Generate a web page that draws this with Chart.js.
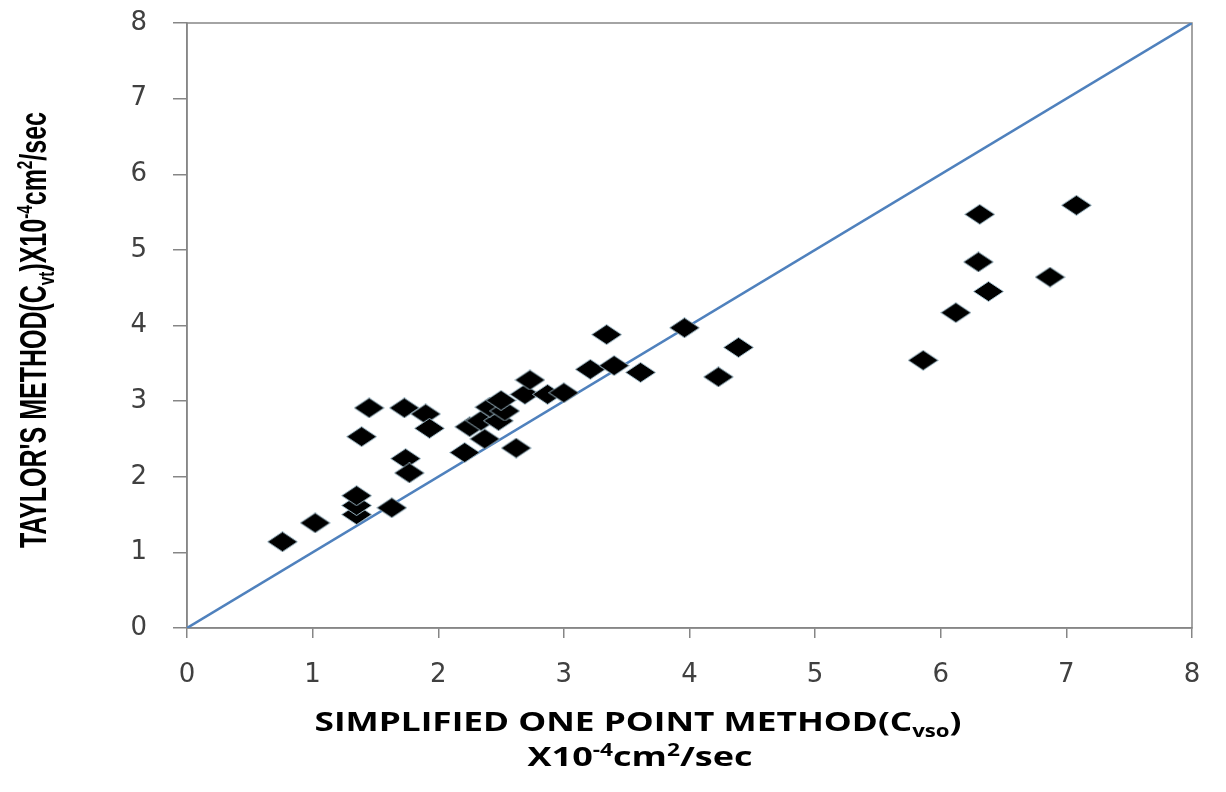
<!DOCTYPE html>
<html>
<head>
<meta charset="utf-8">
<title>Taylor's method vs simplified one point method</title>
<script src="https://cdn.jsdelivr.net/npm/chart.js@4.4.1/dist/chart.umd.min.js"></script>
<style>
  html, body { margin: 0; padding: 0; background: #ffffff; }
  #wrap { width: 1226px; height: 792px; }
</style>
</head>
<body>
<div id="wrap"><canvas id="chart" width="1226" height="792"></canvas></div>
<script>
// simplified one point method Cvso (x) vs Taylor's method Cvt (y), x10^-4 cm2/sec
const cvso = [0.76, 1.02, 1.35, 1.35, 1.35, 1.63, 1.39, 1.45, 1.73, 1.90,
              1.93, 1.74, 1.77, 2.21, 2.25, 2.37, 2.34, 2.48, 2.41, 2.53,
              2.50, 2.62, 2.69, 2.73, 2.87, 3.00, 3.21, 3.40, 3.61, 3.34,
              3.96, 4.23, 4.39, 5.86, 6.12, 6.30, 6.31, 6.38, 6.87, 7.08];
const cvt  = [1.14, 1.39, 1.50, 1.62, 1.75, 1.59, 2.53, 2.91, 2.91, 2.83,
              2.64, 2.24, 2.05, 2.32, 2.66, 2.50, 2.74, 2.74, 2.92, 2.87,
              3.01, 2.38, 3.09, 3.28, 3.09, 3.11, 3.42, 3.47, 3.38, 3.88,
              3.97, 3.32, 3.71, 3.54, 4.17, 4.84, 5.47, 4.45, 4.64, 5.59];

// 1:1 line
const lineX = [0, 8];
const lineY = [0, 8];

const axisTicks = [0, 1, 2, 3, 4, 5, 6, 7, 8];

const points = cvso.map((x, i) => ({ x: x, y: cvt[i] }));
const linePts = lineX.map((x, i) => ({ x: x, y: lineY[i] }));

// flattened diamond marker like the excel one
function makeDiamond(w, h) {
    const c = document.createElement('canvas');
    c.width = w;
    c.height = h;
    const g = c.getContext('2d');
    g.beginPath();
    g.moveTo(w / 2, 0.5);
    g.lineTo(w - 0.5, h / 2);
    g.lineTo(w / 2, h - 0.5);
    g.lineTo(0.5, h / 2);
    g.closePath();
    g.fillStyle = '#000000';
    g.fill();
    g.strokeStyle = 'rgba(170,200,215,0.9)';
    g.lineWidth = 1;
    g.stroke();
    return c;
}
const diamond = makeDiamond(31, 21);

// text pieces: [text, 'sub' | 'sup' | undefined]
const yTitle = [["TAYLOR'S METHOD(C"], ['vt', 'sub'], [')X10'], ['-4', 'sup'], ['cm'], ['2', 'sup'], ['/sec']];
const xTitle1 = [['SIMPLIFIED ONE POINT METHOD(C'], ['vso', 'sub'], [')']];
const xTitle2 = [['X10'], ['-4', 'sup'], ['cm'], ['2', 'sup'], ['/sec']];

function drawRich(ctx, parts, family, size, cx, baseY, targetW) {
    const big = 'bold ' + size + 'px ' + family;
    const small = 'bold ' + Math.round(size * 0.62) + 'px ' + family;
    let w = 0;
    parts.forEach(p => {
        ctx.font = p[1] ? small : big;
        w += ctx.measureText(p[0]).width;
    });
    const sx = targetW / w;
    ctx.save();
    ctx.translate(cx - targetW / 2, baseY);
    ctx.scale(sx, 1);
    ctx.fillStyle = '#000000';
    ctx.textBaseline = 'alphabetic';
    ctx.textAlign = 'left';
    let x = 0;
    parts.forEach(p => {
        ctx.font = p[1] ? small : big;
        let dy = 0;
        if (p[1] === 'sub') dy = size * 0.22;
        if (p[1] === 'sup') dy = -size * 0.38;
        ctx.fillText(p[0], x, dy);
        x += ctx.measureText(p[0]).width;
    });
    ctx.restore();
}

const titlesPlugin = {
    id: 'titles',
    beforeDatasetsDraw(chart) {
        const ctx = chart.ctx;
        const a = chart.chartArea;
        ctx.save();
        ctx.strokeStyle = '#868686';
        ctx.lineWidth = 1.5;
        ctx.strokeRect(a.left, a.top, a.right - a.left, a.bottom - a.top);
        ctx.restore();
    },
    afterDraw(chart) {
        const ctx = chart.ctx;
        drawRich(ctx, xTitle1, '"Open Sans", sans-serif', 27, 638, 731, 647);
        drawRich(ctx, xTitle2, '"Open Sans", sans-serif', 27, 640, 766, 225);
        ctx.save();
        ctx.translate(46, 330);
        ctx.rotate(-Math.PI / 2);
        drawRich(ctx, yTitle, '"Liberation Sans Narrow", "Liberation Sans", sans-serif', 36, 0, 0, 436);
        ctx.restore();
    }
};

new Chart(document.getElementById('chart'), {
    type: 'scatter',
    data: {
        datasets: [
            {
                label: 'Cvt vs Cvso',
                data: points,
                pointStyle: diamond,
                pointRadius: 12,
                pointHoverRadius: 12,
                showLine: false,
                order: 1
            },
            {
                type: 'line',
                label: '1:1',
                data: linePts,
                borderColor: '#4f81bd',
                borderWidth: 2.5,
                pointRadius: 0,
                fill: false,
                order: 2
            }
        ]
    },
    options: {
        responsive: false,
        animation: false,
        layout: { padding: { top: 23, right: 34, left: 0, bottom: 0 } },
        plugins: {
            legend: { display: false },
            tooltip: { enabled: false }
        },
        scales: {
            x: {
                type: 'linear',
                min: 0,
                max: 8,
                afterBuildTicks: s => { s.ticks = axisTicks.map(v => ({ value: v })); },
                afterFit: s => { s.height = 164; },
                grid: { drawOnChartArea: false, drawTicks: true, tickLength: 10, color: '#868686', lineWidth: 1.5 },
                border: { color: '#868686', width: 1.5 },
                ticks: { padding: 22, color: '#404040', font: { family: '"DejaVu Sans", sans-serif', size: 26 } }
            },
            y: {
                type: 'linear',
                min: 0,
                max: 8,
                afterBuildTicks: s => { s.ticks = axisTicks.map(v => ({ value: v })); },
                afterFit: s => { s.width = 187; s.paddingTop = 0; s.paddingBottom = 0; },
                grid: { drawOnChartArea: false, drawTicks: true, tickLength: 14, color: '#868686', lineWidth: 1.5 },
                border: { color: '#868686', width: 1.5 },
                ticks: { padding: 26, color: '#404040', font: { family: '"DejaVu Sans", sans-serif', size: 26 } }
            }
        }
    },
    plugins: [titlesPlugin]
});
</script>
</body>
</html>
